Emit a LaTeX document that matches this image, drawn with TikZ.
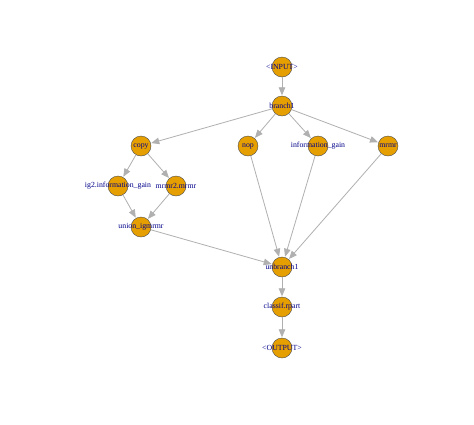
\documentclass[tikz,border=0pt]{standalone}
\usepackage{fontspec}
\setmainfont{Liberation Serif}
\usetikzlibrary{arrows.meta}
\definecolor{vfill}{HTML}{E69F00}
\definecolor{vlab}{HTML}{00008B}
\definecolor{edgec}{HTML}{B0B0B0}
\begin{document}
\begin{tikzpicture}[x=1pt,y=-1pt,
  vert/.style={circle,draw=black!70,line width=0.4pt,fill=vfill,minimum size=20pt,inner sep=0pt},
  lab/.style={text=vlab,font=\fontsize{7.8}{9}\selectfont,inner sep=0pt},
  edge/.style={draw=edgec,line width=0.8pt,-{Triangle[length=8pt,width=6.5pt]},shorten >=0.5pt}]
\useasboundingbox (0,0) rectangle (474,424);
\fill[white] (0,0) rectangle (474,424);
\node[vert] (in) at (282,67) {};
\node[vert] (b1) at (282,106) {};
\node[vert] (copy) at (141,146) {};
\node[vert] (nop) at (248,146) {};
\node[vert] (ig) at (318,146) {};
\node[vert] (mr) at (388,146) {};
\node[vert] (ig2) at (118,186) {};
\node[vert] (mr2) at (176,186) {};
\node[vert] (un) at (141,227) {};
\node[vert] (ub) at (282,267) {};
\node[vert] (cl) at (282,307) {};
\node[vert] (out) at (282,348) {};
\draw[edge] (in) -- (b1);
\draw[edge] (b1) -- (copy);
\draw[edge] (b1) -- (nop);
\draw[edge] (b1) -- (ig);
\draw[edge] (b1) -- (mr);
\draw[edge] (copy) -- (ig2);
\draw[edge] (copy) -- (mr2);
\draw[edge] (ig2) -- (un);
\draw[edge] (mr2) -- (un);
\draw[edge] (un) -- (ub);
\draw[edge] (nop) -- (ub);
\draw[edge] (ig) -- (ub);
\draw[edge] (mr) -- (ub);
\draw[edge] (ub) -- (cl);
\draw[edge] (cl) -- (out);
\node[lab] (lin) at (in) {<INPUT>};
\node[lab] (lb1) at (b1) {branch1};
\node[lab] (lcopy) at (copy) {copy};
\node[lab] (lnop) at (nop) {nop};
\node[lab] (lig) at (ig) {information\_gain};
\node[lab] (lmr) at (mr) {mrmr};
\node[lab] (lig2) at (ig2) {ig2.information\_gain};
\node[lab] (lmr2) at (mr2) {mrmr2.mrmr};
\node[lab] (lun) at (un) {union\_igmrmr};
\node[lab] (lub) at (ub) {unbranch1};
\node[lab] (lcl) at (cl) {classif.rpart};
\node[lab] (lout) at (out) {<OUTPUT>};
\end{tikzpicture}
\end{document}
